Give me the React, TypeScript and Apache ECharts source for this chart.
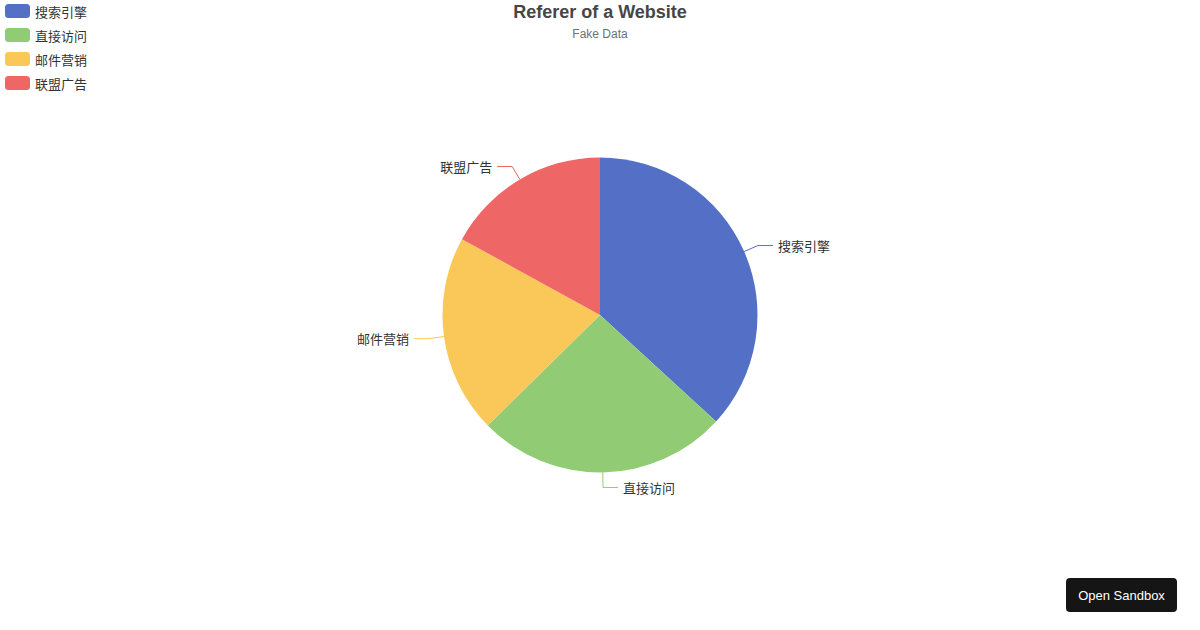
import React, { useEffect, useRef } from "react";
import * as echarts from "echarts";

const categories = ["搜索引擎", "直接访问", "邮件营销", "联盟广告"];
const values = [1048, 735, 580, 484];
const colors = ["#5470c6", "#91cc75", "#fac858", "#ee6666"];

export default function App() {
  const ref = useRef<HTMLDivElement>(null);

  useEffect(() => {
    document.body.style.margin = "0";
    const chart = echarts.init(ref.current!, undefined, { renderer: "svg" });
    chart.setOption({
      animation: false,
      color: colors,
      title: {
        text: "Referer of a Website",
        subtext: "Fake Data",
        left: "center",
        top: -2,
        itemGap: 7,
        textStyle: { fontFamily: "Liberation Sans, Arial, sans-serif", fontSize: 18, fontWeight: "bold", color: "#464646" },
        subtextStyle: { fontFamily: "Liberation Sans, Arial, sans-serif", fontSize: 12, color: "#6E7079" },
      },
      legend: {
        orient: "vertical",
        left: 5,
        top: 4,
        padding: 0,
        itemGap: 10,
        itemWidth: 25,
        itemHeight: 14,
        textStyle: { fontFamily: "Noto Sans CJK SC, sans-serif", fontSize: 13, color: "#333" },
      },
      series: [
        {
          name: "Access From",
          type: "pie",
          radius: "50%",
          center: ["50%", "50%"],
          data: categories.map((name, i) => ({ name, value: values[i] })),
          label: { fontFamily: "Noto Sans CJK SC, sans-serif", fontSize: 13, color: "#333" },
          labelLine: { length: 15, length2: 15 },
        },
      ],
    });
    return () => chart.dispose();
  }, []);

  return (
    <div style={{ position: "relative", width: 1200, height: 630 }}>
      <div ref={ref} style={{ width: 1200, height: 630 }} />
      <div
        style={{
          position: "absolute",
          left: 1066,
          top: 578,
          width: 111,
          height: 34,
          background: "#151515",
          borderRadius: 4,
          color: "#fff",
          fontFamily: "Liberation Sans, Arial, sans-serif",
          fontSize: 13,
          display: "flex",
          alignItems: "center",
          justifyContent: "center",
        }}
      >
        Open Sandbox
      </div>
    </div>
  );
}
